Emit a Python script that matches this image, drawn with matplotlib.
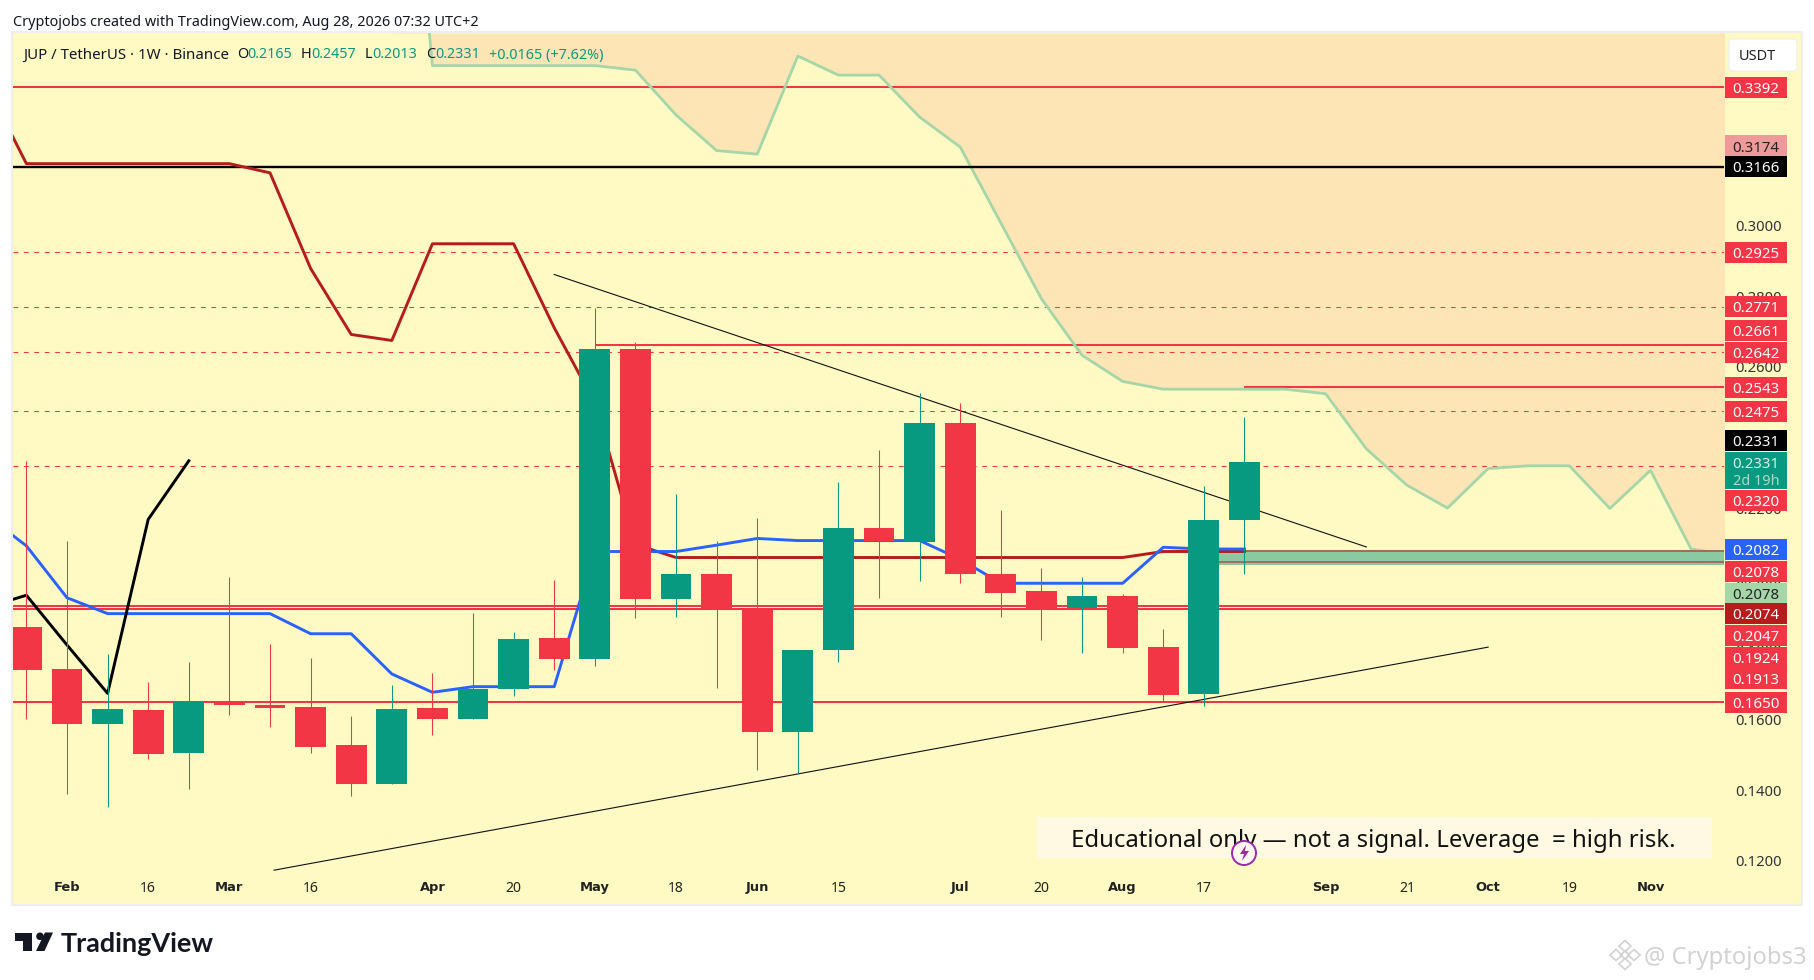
import matplotlib
matplotlib.use("Agg")
import matplotlib.pyplot as plt
import numpy as np
from matplotlib.patches import Rectangle, FancyBboxPatch, Polygon, Circle
from matplotlib.transforms import Affine2D

# ---------- data ----------
opens  = [.1863,.1744,.1588,.1628,.1506,.1652,.1642,.1636,.1529,.1418,.1634,.1602,.1687,.1832,.1772,
          .2651,.1943,.2013,.1914,.1566,.1798,.2144,.2104,.2441,.2013,.1965,.1917,.1951,.1806,.1673,.2165]
closes = [.1742,.1588,.1631,.1503,.1653,.1642,.1634,.1523,.1418,.1631,.1602,.1687,.1829,.1772,.2651,
          .1943,.2013,.1914,.1566,.1798,.2144,.2107,.2441,.2013,.1959,.1914,.1951,.1804,.1670,.2166,.2331]
highs  = [.2333,.2107,.1787,.1707,.1764,.2005,.1815,.1775,.1611,.1699,.1733,.1903,.1849,.1996,.2767,
          .2671,.2240,.2107,.2172,.1798,.2274,.2365,.2525,.2498,.2195,.2030,.2005,.1957,.1857,.2263,.2457]
lows   = [.1602,.1390,.1354,.1489,.1404,.1614,.1580,.1506,.1384,.1418,.1557,.1602,.1668,.1741,.1753,
          .1889,.1891,.1690,.1458,.1449,.1764,.1945,.1993,.1988,.1891,.1826,.1789,.1789,.1653,.1639,.2013]

baseline_x = list(range(-1, 31))
baseline   = [.3403,.3176,.3176,.3176,.3176,.3176,.3176,.3150,.2879,.2692,.2675,.2949,.2949,.2949,.2711,.2498,
              .2097,.2060,.2060,.2060,.2060,.2060,.2060,.2060,.2060,.2060,.2060,.2060,.2060,.2077,.2077,.2077]
conv_x = list(range(-1, 31))
conv   = [.2181,.2093,.1946,.1901,.1901,.1901,.1901,.1901,.1844,.1844,.1730,.1678,.1694,.1694,.1694,.2077,
          .2077,.2077,.2095,.2114,.2108,.2108,.2108,.2108,.2055,.1987,.1987,.1987,.1987,.2089,.2084,.2084]
lag_x = [-1,0,1,2,3,4]
lag   = [.1918,.1953,.1812,.1675,.2168,.2334]
span_x = list(range(9, 43))
span   = [.4663,.3454,.3454,.3454,.3454,.3454,.3441,.3314,.3213,.3203,.3481,.3427,.3427,.3308,.3223,.3008,
          .2793,.2633,.2559,.2537,.2537,.2537,.2537,.2524,.2368,.2265,.2200,.2312,.2320,.2320,.2199,.2307,.2084,.2067]

solid_full = [.3392,.1924,.1913,.1650]
dashed_full = [.2925,.2771,.2642,.2475,.2320]
res_1 = .2661
res_2 = .2543
black_level = .3166
band_low, band_line_low, band_line_high, band_high = .2039,.2047,.2078,.2082

trend_down = ([13,33],[.2862,.2090])
trend_up   = ([6.1,36],[.1174,.1806])

xtick_pos = [1,3,5,7,10,12,14,16,18,20,23,25,27,29,32,34,36,38,40]
xtick_lab = ['Feb','16','Mar','16','Apr','20','May','18','Jun','15','Jul','20','Aug','17','Sep','21','Oct','19','Nov']
month_labels = {'Feb','Mar','Apr','May','Jun','Jul','Aug','Sep','Oct','Nov'}
ytick_pos = [.12,.14,.16,.18,.20,.22,.24,.26,.28,.30,.32,.34]

# (text, fill, text colour)
badges = [('0.3392','r'),('0.3174','p'),('0.3166','k'),('0.2925','r'),('0.2771','r'),('0.2661','r'),
          ('0.2642','r'),('0.2543','r'),('0.2475','r'),('0.2331','k'),('0.2320','r'),('0.2082','b'),
          ('0.2078','r'),('0.2078','g'),('0.2074','d'),('0.2047','r'),('0.1924','r'),('0.1913','r'),('0.1650','r')]

# ---------- style / layout ----------
W, H = 1814, 980
RED, GREEN, BLUE, DRED, LGREEN = '#f23645', '#089981', '#2962ff', '#b71c1c', '#a5d6a7'
BG, CLOUD = '#fff9c4', '#fde5b6'
FONT = 'Noto Sans'
plt.rcParams['font.family'] = [FONT, 'DejaVu Sans']
badge_px = [87.3,146,167,252.7,306.7,330.7,352.7,387.7,411.7,440.7,500.7,549.7,571.7,593,613.7,635,657,678,702.7]
badge_fill = {'r':(RED,'white'),'p':('#ef9a9a','#222222'),'k':('#000000','white'),'b':(BLUE,'white'),
              'g':(LGREEN,'#222222'),'d':(DRED,'white')}
def fs(px): return px*72/100

fig = plt.figure(figsize=(W/100, H/100), dpi=100, facecolor='white')
PX = Affine2D().scale(1/W, -1/H).translate(0, 1) + fig.transFigure

L, R, T, B = 13, 1724, 33, 905
ax = fig.add_axes([L/W, 1-B/H, (R-L)/W, (B-T)/H])
ax.patch.set_alpha(0)
ax.set_xlim(-0.33, 41.81)
ax.set_ylim(0.12-(B-861)/3529, 0.12+(861-T)/3529)
for s in ax.spines.values():
    s.set_visible(False)

fig.add_artist(Rectangle((12,32),1790,873,transform=PX,facecolor=BG,edgecolor='#eeeeee',lw=1.5,zorder=-5))

ytop = ax.get_ylim()[1]
ax.fill_between(span_x, span, [ytop]*len(span), color=CLOUD, lw=0, zorder=1)
ax.plot(span_x, span, color=LGREEN, lw=2.0, zorder=3)

for v in solid_full:
    ax.axhline(v, color=RED, lw=1.45, zorder=2)
for v in dashed_full:
    ax.axhline(v, color=RED, lw=0.75, ls=(0,(4.5,5.5)), zorder=2)
ax.hlines(res_1, 14, 41.81, color=RED, lw=1.45, zorder=2)
ax.hlines(res_2, 30, 41.81, color=RED, lw=1.45, zorder=2)
ax.axhline(black_level, color='black', lw=1.7, zorder=3)

ax.add_patch(Rectangle((29, band_low), 12.81, band_high-band_low, facecolor='#8bc9a0', edgecolor='none', zorder=3))
ax.hlines([band_line_low, band_line_high], 29, 41.81, color='#a8605c', lw=1.3, zorder=3.1)

ax.plot(baseline_x, baseline, color=DRED, lw=2.1, zorder=4)
ax.plot(conv_x, conv, color=BLUE, lw=2.1, zorder=4)
ax.plot(lag_x, lag, color='black', lw=2.1, zorder=4)
ax.plot(*trend_down, color='#111111', lw=0.8, zorder=5)
ax.plot(*trend_up, color='#111111', lw=0.8, zorder=5)

x = np.arange(len(opens))
o, c, hi, lo = map(np.array, (opens, closes, highs, lows))
cols = [GREEN if a >= b else RED for a, b in zip(c, o)]
ax.vlines(x, lo, hi, colors=cols, lw=0.75, zorder=6)
ax.bar(x, np.abs(c-o), bottom=np.minimum(o, c), width=0.76, color=cols, lw=0, zorder=7)

ax.set_xticks(xtick_pos, xtick_lab)
ax.set_yticks(ytick_pos, [f'{v:.4f}' for v in ytick_pos])
ax.yaxis.tick_right()
ax.tick_params(axis='y', length=0, pad=8.2, labelsize=fs(14.8), labelcolor='#333333')
ax.tick_params(axis='x', length=0, pad=-17.6, labelsize=fs(14), labelcolor='#222222')
for t in ax.get_xticklabels():
    if t.get_text() in month_labels:
        t.set_fontfamily('DejaVu Sans')
        t.set_fontweight('bold')
        t.set_fontsize(fs(13))

# price badges
for (txt, k), yp in zip(badges, badge_px):
    f, tc = badge_fill[k]
    fig.add_artist(Rectangle((1725, yp-10.5), 62, 21, transform=PX, facecolor=f, edgecolor='none', zorder=6))
    fig.text(1756, yp, txt, transform=PX, color=tc, fontsize=fs(15), ha='center', va='center_baseline', zorder=7)
# live-price badge
fig.add_artist(Rectangle((1725, 451.5), 62, 37.5, transform=PX, facecolor=GREEN, edgecolor='none', zorder=6))
fig.text(1756, 462, '0.2331', transform=PX, color='#d7f0e6', fontsize=fs(15), ha='center', va='center_baseline', zorder=7)
fig.text(1756, 479, '2d 19h', transform=PX, color='#a6dcc8', fontsize=fs(14.5), ha='center', va='center_baseline', zorder=7)

# USDT button
fig.add_artist(FancyBboxPatch((1731,41),64,28,boxstyle='round,pad=2,rounding_size=4',transform=PX,
                              facecolor='white',edgecolor='#eeeeee',lw=0.8,zorder=6))
fig.text(1757,54.5,'USDT',transform=PX,color='#222222',fontsize=fs(14.5),ha='center',va='center_baseline',zorder=7)

# header and legend
fig.text(13,20,'Cryptojobs created with TradingView.com, Aug 28, 2026 07:32 UTC+2',transform=PX,
         color='#131722',fontsize=fs(14.4),ha='left',va='center_baseline')
DARK='#131722'
for xp, s, col, px in [(23,'JUP / TetherUS · 1W · Binance',DARK,15),(237,'O',DARK,14.5),(247,'0.2165',GREEN,14.3),
                       (301,'H',DARK,14.5),(311,'0.2457',GREEN,14.3),(365,'L',DARK,14.5),(372,'0.2013',GREEN,14.3),
                       (426,'C',DARK,14.5),(435,'0.2331',GREEN,14.3),(489,'+0.0165 (+7.62%)',GREEN,14.4)]:
    fig.text(xp,53,s,transform=PX,color=col,fontsize=fs(px),ha='left',va='center_baseline',zorder=8)

# note box and icon
fig.add_artist(Rectangle((1037,817),675,41,transform=PX,facecolor='#fff9e3',edgecolor='none',zorder=6))
fig.text(1373,838,'Educational only — not a signal. Leverage  = high risk.',transform=PX,color='#111111',
         fontsize=fs(23.9),ha='center',va='center_baseline',zorder=7)
fig.add_artist(Circle((1244,853),12,transform=PX,facecolor='#fff8ee',edgecolor='#9c27b0',lw=1.4,zorder=8))
fig.add_artist(Polygon([(1246,845),(1240,854),(1244,854),(1242,861),(1249,851),(1245,851)],closed=True,
                       transform=PX,facecolor='#9c27b0',edgecolor='none',zorder=9))

# TradingView logo
LOGO='#131722'
fig.add_artist(Polygon([(15.3,932.5),(32,932.5),(32,951),(23,951),(23,941),(15.3,941)],closed=True,transform=PX,facecolor=LOGO,edgecolor='none'))
fig.add_artist(Circle((40,936.3),3.8,transform=PX,facecolor=LOGO,edgecolor='none'))
fig.add_artist(Polygon([(45,932.5),(53,932.5),(44.5,951),(36,951)],closed=True,transform=PX,facecolor=LOGO,edgecolor='none'))
fig.text(61,942,'TradingView',transform=PX,color=LOGO,fontsize=fs(27),fontweight='bold',family='Lato',ha='left',va='center_baseline')

# watermark
WM='#d2d2d2'
cx, cy = 1625, 955
for dx, dy, r in [(0,-9,5.5),(-9,0,5.5),(9,0,5.5),(0,9,5.5),(0,0,4)]:
    fig.add_artist(Polygon([(cx+dx-r*1.1,cy+dy),(cx+dx,cy+dy-r),(cx+dx+r*1.1,cy+dy),(cx+dx,cy+dy+r)],closed=True,
                           transform=PX,facecolor='none',edgecolor=WM,lw=1.2))
fig.text(1644,955,'@ Cryptojobs3',transform=PX,color=WM,fontsize=fs(23.8),ha='left',va='center_baseline')

fig.savefig('out.png', dpi=100, facecolor='white')
